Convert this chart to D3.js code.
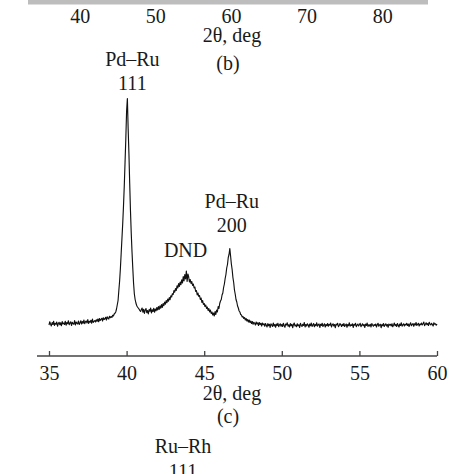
<!DOCTYPE html>
<meta charset="utf-8">
<script src="https://d3js.org/d3.v7.min.js"></script>
<style>
  body { margin: 0; background: #fff; }
  text { font-family: "Liberation Serif", "DejaVu Serif", serif; fill: #1a1a1a; }
</style>
<div id="my_dataviz"></div>
<script>

// diffraction pattern of panel (c): 2theta grid start/step and measured intensity (a.u.)
// one row per degree, 20 readings each (step 0.05 deg)
var thetaStart = 35, thetaStep = 0.05;
var intensity = [
  124, 137, 128, 120, 134, 126, 139, 122, 131, 127, 136, 119, 130, 135, 125, 133, 121, 138, 128, 132, // 35
  126, 139, 123, 134, 129, 141, 125, 132, 137, 122, 135, 130, 127, 142, 124, 136, 131, 128, 140, 126, // 36
  133, 141, 128, 138, 131, 144, 129, 137, 140, 132, 146, 130, 139, 135, 143, 131, 148, 134, 138, 142, // 37
  136, 145, 139, 148, 137, 150, 142, 147, 151, 140, 153, 146, 149, 155, 144, 157, 151, 148, 159, 153, // 38
  158, 154, 163, 160, 168, 171, 176, 188, 205, 222, 262, 300, 350, 410, 470, 530, 600, 680, 775, 870, // 39
  980, 1030, 910, 810, 690, 580, 490, 415, 350, 290, 248, 226, 212, 202, 196, 192, 188, 182, 178, 186, // 40
  192, 175, 187, 170, 184, 190, 173, 182, 168, 186, 179, 192, 172, 185, 178, 191, 175, 188, 181, 194, // 41
  184, 198, 186, 201, 191, 206, 194, 210, 201, 216, 207, 222, 213, 228, 219, 234, 225, 241, 236, 249, // 42
  246, 262, 255, 270, 262, 281, 272, 290, 278, 296, 285, 305, 292, 318, 300, 326, 308, 340, 298, 328, // 43
  316, 296, 306, 290, 298, 282, 288, 272, 276, 258, 262, 244, 252, 238, 242, 226, 232, 214, 222, 206, // 44
  210, 198, 204, 190, 196, 182, 190, 176, 184, 170, 176, 164, 172, 160, 178, 166, 184, 176, 198, 190, // 45
  210, 220, 226, 244, 252, 274, 288, 310, 326, 352, 366, 394, 406, 430, 400, 368, 346, 314, 294, 264, // 46
  247, 226, 216, 200, 192, 180, 176, 166, 164, 156, 158, 150, 154, 144, 150, 140, 146, 136, 144, 134, // 47
  140, 130, 138, 127, 135, 131, 124, 136, 128, 133, 122, 134, 126, 131, 120, 132, 125, 129, 119, 130, // 48
  123, 116, 130, 121, 127, 114, 129, 124, 118, 132, 120, 126, 115, 128, 122, 131, 117, 125, 129, 119, // 49
  126, 118, 131, 122, 115, 128, 124, 133, 119, 125, 116, 130, 121, 127, 113, 126, 132, 120, 124, 117, // 50
  129, 121, 125, 114, 131, 123, 118, 127, 122, 134, 116, 126, 120, 129, 124, 115, 128, 121, 132, 118, // 51
  124, 130, 117, 126, 121, 133, 119, 125, 128, 114, 127, 122, 131, 118, 124, 129, 116, 126, 121, 130, // 52
  119, 127, 123, 132, 116, 125, 129, 120, 126, 113, 128, 124, 131, 117, 122, 130, 125, 118, 127, 121, // 53
  130, 118, 124, 128, 115, 126, 121, 133, 119, 125, 122, 129, 114, 127, 123, 131, 117, 124, 128, 120, // 54
  125, 131, 117, 123, 129, 121, 126, 114, 128, 122, 132, 118, 125, 120, 127, 116, 130, 123, 119, 126, // 55
  122, 128, 116, 125, 131, 119, 124, 127, 113, 126, 121, 130, 118, 124, 129, 120, 126, 115, 128, 123, // 56
  127, 120, 129, 117, 124, 132, 121, 126, 118, 130, 123, 116, 128, 122, 133, 119, 125, 129, 120, 127, // 57
  124, 131, 122, 128, 118, 127, 133, 121, 126, 130, 119, 129, 124, 134, 122, 127, 131, 120, 128, 125, // 58
  132, 124, 129, 136, 121, 127, 133, 125, 130, 122, 135, 128, 124, 131, 126, 120, 133, 127, 129, 123, // 59
  128                                                                                                  // 60
];

var ticksB = [40, 50, 60, 70, 80];
var ticksC = [35, 40, 45, 50, 55, 60];
var axisTitle = "2θ, deg";

// peak annotations of panel (c)
var peakNames = ["Pd–Ru", "DND", "Pd–Ru"];
var peakHkl   = ["111", "", "200"];
var peakPos   = [40.05, 43.8, 46.65];

// next panel (d), only its top is visible
var nextPeakName = "Ru–Rh", nextPeakHkl = "111";

var W = 474, H = 474;
var fs = 20;

var svg = d3.select("#my_dataviz")
  .append("svg")
    .attr("width", W)
    .attr("height", H);

// ---------- bottom of panel (b) ----------
var xB = d3.scaleLinear().domain([40, 80]).range([79.7, 382.2]);

svg.append("line")
  .attr("x1", 28).attr("x2", 428)
  .attr("y1", 2).attr("y2", 2)
  .attr("stroke", "#bdbdbd")
  .attr("stroke-width", 5);

var axB = svg.append("g")
  .attr("transform", "translate(0,2)")
  .call(d3.axisBottom(xB).tickValues(ticksB).tickSize(0).tickFormat(d3.format("d")));
axB.select(".domain").remove();
axB.selectAll("text")
  .attr("y", 21).attr("dy", 0)
  .style("font-size", fs + "px")
  .style("font-family", "Liberation Serif");

svg.append("text").attr("x", 232).attr("y", 42)
  .attr("text-anchor", "middle").style("font-size", fs + "px")
  .text(axisTitle);
svg.append("text").attr("x", 228).attr("y", 70)
  .attr("text-anchor", "middle").style("font-size", fs + "px")
  .text("(b)");

// ---------- panel (c) ----------
var x = d3.scaleLinear().domain([35, 60]).range([49, 437]);
var y = d3.scaleLinear().domain([0, 1000]).range([356, 106]);

var data = intensity.map(function(v, i) {
  return { t: thetaStart + i * thetaStep, v: v };
});

svg.append("path")
  .datum(data)
  .attr("fill", "none")
  .attr("stroke", "#111")
  .attr("stroke-width", 1.15)
  .attr("stroke-linejoin", "round")
  .attr("d", d3.line()
    .x(function(d) { return x(d.t); })
    .y(function(d) { return y(d.v); }));

var axC = svg.append("g")
  .attr("transform", "translate(0,356)")
  .call(d3.axisBottom(x).tickValues(ticksC).tickSizeInner(-5).tickSizeOuter(0).tickPadding(0));
axC.select(".domain").remove();
axC.selectAll(".tick line").attr("stroke", "#444").attr("stroke-width", 1.3);
axC.selectAll("text")
  .attr("y", 24).attr("dy", 0)
  .style("font-size", fs + "px")
  .style("font-family", "Liberation Serif");
axC.append("line")
  .attr("x1", x(35) - 12).attr("x2", x(60))
  .attr("y1", 0).attr("y2", 0)
  .attr("stroke", "#444")
  .attr("stroke-width", 1.5);

svg.append("text").attr("x", 232).attr("y", 400)
  .attr("text-anchor", "middle").style("font-size", fs + "px")
  .text(axisTitle);
svg.append("text").attr("x", 228).attr("y", 423)
  .attr("text-anchor", "middle").style("font-size", fs + "px")
  .text("(c)");

// peak labels
var labelY = [66, 257, 208];
peakNames.forEach(function(name, i) {
  var cx = x(peakPos[i]) + (i == 0 ? 5 : i == 1 ? 0 : 2);
  svg.append("text").attr("x", cx).attr("y", labelY[i])
    .attr("text-anchor", "middle").style("font-size", fs + "px")
    .text(name);
  if (peakHkl[i]) {
    svg.append("text").attr("x", cx).attr("y", labelY[i] + 24)
      .attr("text-anchor", "middle").style("font-size", fs + "px")
      .text(peakHkl[i]);
  }
});

// ---------- top of panel (d) ----------
svg.append("text").attr("x", 183).attr("y", 453)
  .attr("text-anchor", "middle").style("font-size", fs + "px")
  .text(nextPeakName);
svg.append("text").attr("x", 183).attr("y", 478)
  .attr("text-anchor", "middle").style("font-size", fs + "px")
  .text(nextPeakHkl);

</script>
